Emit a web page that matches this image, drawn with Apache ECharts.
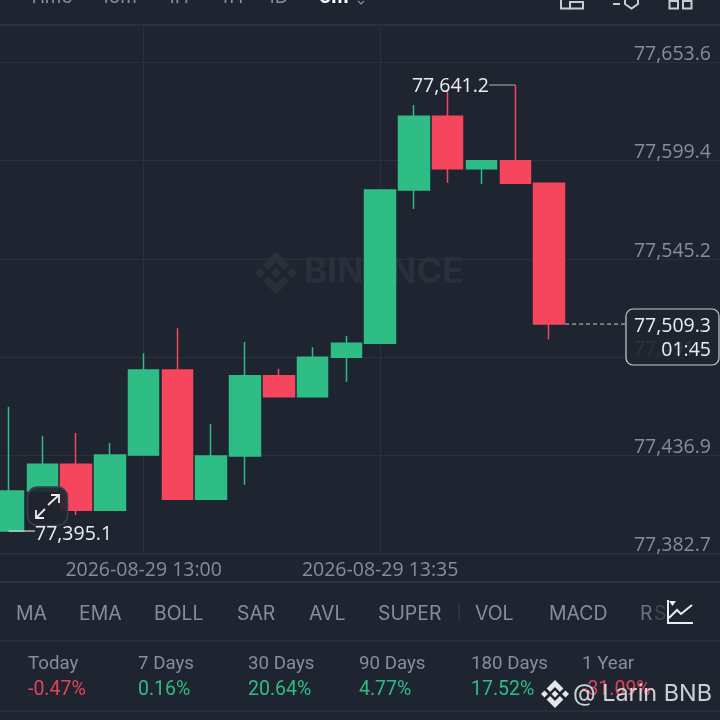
<!DOCTYPE html>
<html><head><meta charset="utf-8">
<style>html,body{margin:0;padding:0;background:#1F2530;overflow:hidden}#c{width:720px;height:720px}</style>
<script src="https://cdn.jsdelivr.net/npm/echarts@6/dist/echarts.min.js"></script>
</head><body><div id="c"></div>
<script>
const times = ['12:40','12:45','12:50','12:55','13:00','13:05','13:10','13:15','13:20','13:25','13:30','13:35','13:40','13:45','13:50','13:55','14:00','14:05','14:10','14:15','14:20','14:25'];
const categories = times.map(t => '2026-08-29 ' + t);
const opens  = [77395.1,77417.2,77431.9,77406.5,77437.0,77483.9,77412.6,77436.5,77480.8,77469.2,77491.0,77498.7,77583.3,77623.9,77595.0,77599.4,77587.0];
const closes = [77417.2,77431.9,77406.5,77437.0,77483.9,77412.6,77436.5,77480.8,77469.2,77491.0,77498.7,77583.3,77623.9,77595.0,77599.4,77587.0,77509.3];
const lows   = [77395.1,77417.2,77403.9,77406.5,77437.0,77412.6,77412.6,77420.7,77469.2,77469.2,77477.5,77498.7,77572.8,77587.3,77586.6,77587.0,77500.9];
const highs  = [77463.7,77447.7,77449.2,77443.7,77493.2,77507.0,77454.2,77499.4,77484.7,77496.5,77502.7,77583.3,77630.2,77638.4,77599.4,77641.2,77587.0];
const yTicks = [77382.7,77436.9,77491.0,77545.2,77599.4,77653.6];
const xLabelIdx = [4,11];
const highMark = {idx:15, value:77641.2};
const lowMark = {idx:0, value:77395.1};
const lastPrice = 77509.3, countdown = '01:45';
const timeframes = [['Time',28],['15m',101],['1H',167],['4H',217],['1D',267]];
const indicators = [['MA',16],['EMA',79],['BOLL',154],['SAR',237],['AVL',309],['SUPER',378],['VOL',475],['MACD',549]];
const statLabels = ['Today','7 Days','30 Days','90 Days','180 Days','1 Year'];
const statValues = ['-0.47%','0.16%','20.64%','4.77%','17.52%','-31.09%'];
const statX = [28,138,248,359,471,582];

const FONT = 'Inter, Roboto, sans-serif', NUM = '"Open Sans", Roboto, sans-serif', STAT = 'Roboto, sans-serif';
const BG = '#1F2530', GRID = '#2B313C', UP = '#2EBD85', DOWN = '#F6465D', MUTED = '#848E9C';
const fmt = v => v.toLocaleString('en-US',{minimumFractionDigits:1,maximumFractionDigits:1});
const chart = echarts.init(document.getElementById('c'), null, {renderer:'canvas'});
chart.setOption({
  animation:false, backgroundColor:BG,
  grid:{left:-8.375, right:-14.875, top:25, bottom:166.5, outerBoundsMode:'none', containLabel:false},
  xAxis:{type:'category', data:categories, boundaryGap:true,
    axisLine:{show:true,lineStyle:{color:GRID,width:1.5}}, axisTick:{show:false},
    splitLine:{show:true, alignWithLabel:true, lineStyle:{color:GRID,width:1}, interval:i=>xLabelIdx.includes(i)},
    axisLabel:{interval:i=>xLabelIdx.includes(i), color:MUTED, fontFamily:NUM, fontSize:19.5, margin:6.5, hideOverlap:false}},
  yAxis:{type:'value', position:'right', scale:true, min:77382.7, max:77674.3,
    axisLine:{show:false}, axisTick:{show:false, customValues:yTicks},
    splitLine:{show:true,lineStyle:{color:GRID,width:1}},
    axisLabel:{inside:true, customValues:yTicks, formatter:fmt, color:MUTED, fontFamily:NUM, fontSize:19.5, lineHeight:16, margin:23.9, verticalAlign:'bottom', showMinLabel:true, showMaxLabel:true}},
  series:[{type:'candlestick', barWidth:31,
    data:opens.map((o,i)=>[o,closes[i],lows[i],highs[i]]),
    itemStyle:{color:UP,color0:DOWN,borderColor:UP,borderColor0:DOWN,borderWidth:1.5}}]
});
const px = (i,v)=>chart.convertToPixel({gridIndex:0},[i,v]);
const hi = px(highMark.idx,highMark.value), lo = px(lowMark.idx,lowMark.value), last = px(opens.length-1,lastPrice);
const T=(text,x,y,fill,fs,extra={})=>({type:'text',z:20,style:Object.assign({text,x,y,fill,fontSize:fs,fontFamily:FONT,verticalAlign:'middle',align:'left'},extra)});
const N=(text,x,y,fill,extra={})=>T(text,x,y,fill,19.5,Object.assign({fontFamily:NUM},extra));
const L=(pts,stroke,w,z=20,extra={})=>({type:'polyline',z,shape:{points:pts},style:Object.assign({stroke,lineWidth:w,fill:null},extra)});
const P=(pts,fill,z=20)=>({type:'polygon',z,shape:{points:pts},style:{fill}});
const R=(x,y,width,height,r,style,z=20)=>({type:'rect',z,shape:{x,y,width,height,r},style});
const logo=(cx,cy,s,fill,z)=>[
  P([[cx,cy-s*.25],[cx+s*.25,cy],[cx,cy+s*.25],[cx-s*.25,cy]],fill,z),
  P([[cx-s,cy],[cx-s*.75,cy-s*.25],[cx-s*.5,cy],[cx-s*.75,cy+s*.25]],fill,z),
  P([[cx+s,cy],[cx+s*.75,cy-s*.25],[cx+s*.5,cy],[cx+s*.75,cy+s*.25]],fill,z),
  P([[cx,cy-s],[cx+s*.6,cy-s*.4],[cx+s*.35,cy-s*.15],[cx,cy-s*.5],[cx-s*.35,cy-s*.15],[cx-s*.6,cy-s*.4]],fill,z),
  P([[cx,cy+s],[cx+s*.6,cy+s*.4],[cx+s*.35,cy+s*.15],[cx,cy+s*.5],[cx-s*.35,cy+s*.15],[cx-s*.6,cy+s*.4]],fill,z)
];
const els=[
  // chart watermark
  ...logo(276,273,21.5,'#2A303B',-1),
  {type:'text',z:-1,style:{text:'BINANCE',x:304,y:272,fill:'#2A303B',fontSize:35,fontWeight:700,fontFamily:FONT,verticalAlign:'middle'}},
  // header
  ...timeframes.map(([t,x])=>T(t,x,-3,MUTED,19)),
  T('5m',319,-3,'#FFFFFF',19,{fontWeight:700}),
  L([[358,1],[361,4],[364,1]],MUTED,1.2),
  L([[561,0],[561,8.5],[570,8.5]],'#C8CCD2',2),
  R(570,2,13,6.5,0,{fill:null,stroke:'#C8CCD2',lineWidth:2}),
  L([[613,4],[620,4]],'#C8CCD2',2),
  L([[625,0],[625,4],[631.5,8.5],[638,4],[638,0]],'#C8CCD2',2),
  R(669.5,1,8.5,7.5,0,{fill:null,stroke:'#C8CCD2',lineWidth:2}),
  R(683,1,8.5,7.5,0,{fill:null,stroke:'#C8CCD2',lineWidth:2}),
  // separators
  L([[0,25],[720,25]],GRID,2,1),
  L([[0,582],[720,582]],'#2F3540',2,1),
  L([[0,641],[720,641]],GRID,1.5,1),
  L([[0,711],[720,711]],GRID,1.5,1),
  // high / low annotations
  L([[hi[0],hi[1]],[489,hi[1]]],'#9AA0A8',1.2,6),
  N(fmt(highMark.value),489,hi[1]+1.5,'#EAECEF',{align:'right'}),
  L([[lo[0],lo[1]],[35,lo[1]]],'#D5D8DC',1.2,6),
  N(fmt(lowMark.value),35,lo[1]+3,'#EAECEF'),
  // last price
  L([[last[0]+16,last[1]],[626,last[1]]],'#C8CCD2',1,6,{lineDash:[4,3]}),
  R(626,309,93,56,7,{fill:'rgba(31,37,48,0.88)',stroke:'#C8CCD2',lineWidth:1.2},15),
  N(fmt(lastPrice),711,326.5,'#EAECEF',{align:'right'}),
  N(countdown,711,350,'#EAECEF',{align:'right'}),
  // expand button
  R(27.5,487,40,38.5,10,{fill:'rgba(31,37,48,0.9)',stroke:'#3A404B',lineWidth:1.5},15),
  L([[48,505],[59,495]],'#EAECEF',1.8,16),
  L([[51,495],[59,495],[59,503]],'#EAECEF',1.8,16),
  L([[36,518],[45,509]],'#EAECEF',1.8,16),
  L([[36,510],[36,518],[44,518]],'#EAECEF',1.8,16),
  // indicators
  ...indicators.map(([t,x])=>T(t,x,614,MUTED,19.4)),
  T('R',640,614,'#6A727E',19.4),
  T('S',654,614,'#3F4652',19.4),
  L([[459,603],[459,622]],'#3A404B',1),
  L([[668,600],[668,623],[693,623]],'#EAECEF',2),
  L([[669,618],[677,610],[681,614],[692,605]],'#EAECEF',2),
  P([[669,601],[676,601],[672.5,606]],'#EAECEF'),
  // stats
  ...statLabels.map((t,i)=>T(t,statX[i],664.5,MUTED,18.7,{fontFamily:STAT})),
  ...statValues.map((t,i)=>T(t,statX[i],690,t[0]==='-'?'#DF4659':UP,19.5,{fontFamily:STAT})),
  // credit watermark
  ...logo(555,694,14,'#E4E6E9',25),
  {type:'text',z:25,style:{text:'@ Larin BNB',x:573,y:694,fill:'rgba(235,237,240,0.85)',fontSize:23.4,fontFamily:FONT,verticalAlign:'middle',shadowColor:'#000',shadowBlur:2}}
];
chart.setOption({graphic:{elements:els}});
</script></body></html>
